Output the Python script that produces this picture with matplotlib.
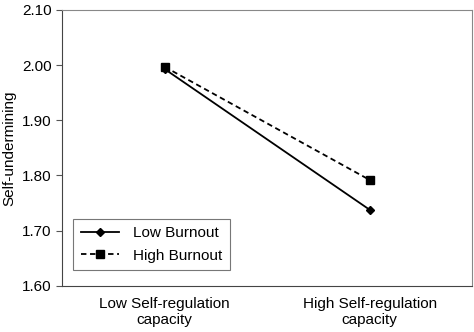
import matplotlib
matplotlib.use("Agg")
import matplotlib.pyplot as plt

plt.rcParams['font.family'] = ['Liberation Sans', 'DejaVu Sans']

categories = ["Low Self-regulation\ncapacity", "High Self-regulation\ncapacity"]
low_burnout = [1.993, 1.738]
high_burnout = [1.997, 1.792]
yticks = [1.60, 1.70, 1.80, 1.90, 2.00, 2.10]

fig = plt.figure(figsize=(4.74, 3.32), dpi=100)
ax = fig.add_axes([0.131, 0.139, 0.865, 0.831])

x = list(range(len(categories)))
ax.plot(x, low_burnout, color='black', lw=1.3, marker='D', ms=4, label='Low Burnout')
ax.plot(x, high_burnout, color='black', lw=1.3, ls=(0, (3, 2)), marker='s', ms=6, label='High Burnout')

ax.set_xlim(-0.5, 1.5)
ax.set_ylim(1.60, 2.10)
ax.set_yticks(yticks)
ax.set_yticklabels([f"{v:.2f}" for v in yticks], fontsize=11)
ax.set_xticks(x)
ax.set_xticklabels(categories, fontsize=11)
ax.tick_params(axis='x', length=0, pad=8)
ax.tick_params(axis='y', length=4, width=0.8, color='#555555')
ax.set_ylabel('Self-undermining', fontsize=11, labelpad=4)

for s in ['top', 'right']:
    ax.spines[s].set_color('#888888')
for s in ['left', 'bottom']:
    ax.spines[s].set_color('#444444')

leg = ax.legend(loc='lower left', bbox_to_anchor=(0.02, 0.045), fontsize=11, frameon=True,
                fancybox=False, edgecolor='#555555', handlelength=2.5, handletextpad=0.9,
                borderpad=0.5, labelspacing=0.55, borderaxespad=0.2)
leg.get_frame().set_linewidth(0.8)

fig.savefig('out.png', dpi=100)
